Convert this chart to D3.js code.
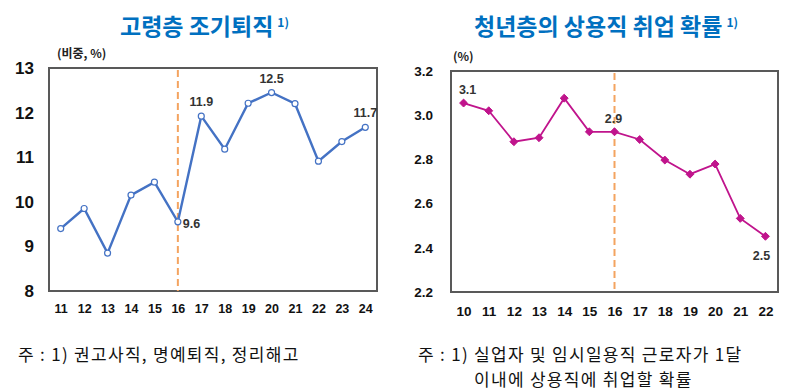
<!DOCTYPE html>
<html>
<head>
<meta charset="utf-8">
<script src="https://cdn.jsdelivr.net/npm/d3@7"></script>
<style>
  body { margin: 0; background: #fff; }
  svg { display: block; }
  .num { font-family: "Liberation Sans Narrow", "Liberation Sans", Arial, sans-serif; font-weight: bold; }
  .kr { font-family: "Noto Sans CJK KR", "Noto Sans", sans-serif; }
</style>
</head>
<body>
<svg id="chart" width="800" height="391"></svg>
<script>
// left: early retirement share of older workers (%)
var years1 = ["11","12","13","14","15","16","17","18","19","20","21","22","23","24"];
var share = [9.40, 9.85, 8.85, 10.15, 10.44, 9.55, 11.92, 11.18, 12.21, 12.45, 12.20, 10.91, 11.35, 11.67];
var ticks1 = [8, 9, 10, 11, 12, 13];
var labels1 = { "16": "9.6", "17": "11.9", "20": "12.5", "24": "11.7" };

// right: youth regular job transition probability (%)
var years2 = ["10","11","12","13","14","15","16","17","18","19","20","21","22"];
var prob = [3.055, 3.02, 2.88, 2.898, 3.077, 2.925, 2.925, 2.89, 2.797, 2.733, 2.779, 2.533, 2.452];
var ticks2 = [2.2, 2.4, 2.6, 2.8, 3.0, 3.2];
var labels2 = { "10": "3.1", "16": "2.9", "22": "2.5" };

var svg = d3.select("#chart");

//titles
function title(x, txt) {
    var t = svg.append("text").attr("class", "kr").attr("x", x).attr("y", 35)
        .attr("fill", "#0070C0").style("font-size", "23px").style("font-weight", "bold")
    t.append("tspan").text(txt)
    t.append("tspan").text("1)").style("font-size", "12px").attr("dx", 4).attr("dy", -8)
}
title(120, "고령층 조기퇴직")
title(474, "청년층의 상용직 취업 확률")

function panel(opt) {
    var x = d3.scalePoint().domain(opt.cats).range([opt.x0, opt.x1]).padding(0.5);
    var y = d3.scaleLinear().domain(d3.extent(opt.ticks)).range([opt.y1, opt.y0]);
    var g = svg.append("g");

    //frame
    g.append("rect")
        .attr("x", opt.x0).attr("y", opt.y0)
        .attr("width", opt.x1 - opt.x0).attr("height", opt.y1 - opt.y0)
        .attr("fill", "none").style("stroke", "#595959").style("stroke-width", 2)

    //y axis
    var ya = g.append("g").attr("transform", "translate(" + opt.yLabX + ",0)")
        .call(d3.axisLeft(y).tickValues(opt.ticks).tickSize(0).tickPadding(0).tickFormat(opt.fmt))
    ya.select(".domain").remove()
    ya.selectAll("text").attr("class", "num").style("font-size", opt.yFont).attr("fill", "#111")

    //x axis
    var xa = g.append("g").attr("transform", "translate(0," + opt.xLabY + ")")
        .call(d3.axisBottom(x).tickSize(0).tickPadding(0))
    xa.select(".domain").remove()
    xa.selectAll("text").attr("class", "num").style("font-size", opt.xFont).attr("fill", "#111")

    //unit
    g.append("text").attr("class", "kr").attr("x", opt.unitX).attr("y", opt.y0 - 10)
        .style("font-size", "12px").style("font-weight", "bold").attr("fill", "#222").text(opt.unit)

    //dashed marker at 16
    g.append("line")
        .attr("x1", x("16")).attr("x2", x("16"))
        .attr("y1", opt.y0 + 2).attr("y2", opt.y1)
        .style("stroke", "#F4A460").style("stroke-width", 2).style("stroke-dasharray", "7,4")

    var pts = opt.cats.map(function(c, i) { return { c: c, v: opt.vals[i] } })
    g.append("path").datum(pts)
        .attr("d", d3.line().x(function(d) { return x(d.c) }).y(function(d) { return y(d.v) }))
        .attr("fill", "none").style("stroke", opt.color).style("stroke-width", opt.lw)

    if (opt.circle) {
        g.selectAll(".pt").data(pts).enter().append("circle")
            .attr("cx", function(d) { return x(d.c) }).attr("cy", function(d) { return y(d.v) })
            .attr("r", 3).attr("fill", "#fff").style("stroke", opt.color).style("stroke-width", 1.2)
    } else {
        g.selectAll(".pt").data(pts).enter().append("path")
            .attr("transform", function(d) { return "translate(" + x(d.c) + "," + y(d.v) + ")" })
            .attr("d", d3.symbol().type(d3.symbolDiamond2).size(40))
            .attr("fill", opt.color).style("stroke", opt.color).style("stroke-width", 1)
    }

    //data labels
    pts.forEach(function(d) {
        var lab = opt.labels[d.c];
        if (!lab) return;
        var off = opt.labOff[d.c];
        g.append("text").attr("class", "num")
            .attr("x", x(d.c) + off[0]).attr("y", y(d.v) + off[1])
            .attr("text-anchor", off[2] || "middle")
            .style("font-size", "12.5px").attr("fill", "#333").text(lab)
    })
}

panel({
    cats: years1, vals: share, ticks: ticks1, labels: labels1,
    x0: 49, x1: 377, y0: 68, y1: 291,
    yLabX: 34, xLabY: 304, yFont: "17px", xFont: "12.5px",
    fmt: d3.format("d"), unit: "(비중, %)", unitX: 57,
    color: "#4472C4", lw: 2.4, circle: true,
    labOff: { "16": [5, 6, "start"], "17": [0, -10], "20": [0, -10], "24": [0, -10] }
})

panel({
    cats: years2, vals: prob, ticks: ticks2, labels: labels2,
    x0: 451, x1: 778, y0: 71, y1: 292,
    yLabX: 433, xLabY: 306, yFont: "13.5px", xFont: "13.5px",
    fmt: d3.format(".1f"), unit: "(%)", unitX: 453,
    color: "#C0148C", lw: 1.8, circle: false,
    labOff: { "10": [4, -9], "16": [-1, -9], "22": [-4, 24] }
})

//footnotes
function note(x, y, txt) {
    svg.append("text").attr("class", "kr").attr("x", x).attr("y", y)
        .style("font-size", "17px").style("letter-spacing", "1.3px").attr("fill", "#111").text(txt)
}
note(18, 361, "주 : 1) 권고사직, 명예퇴직, 정리해고")
note(418, 361, "주 : 1) 실업자 및 임시일용직 근로자가 1달")
note(474, 386, "이내에 상용직에 취업할 확률")
</script>
</body>
</html>
